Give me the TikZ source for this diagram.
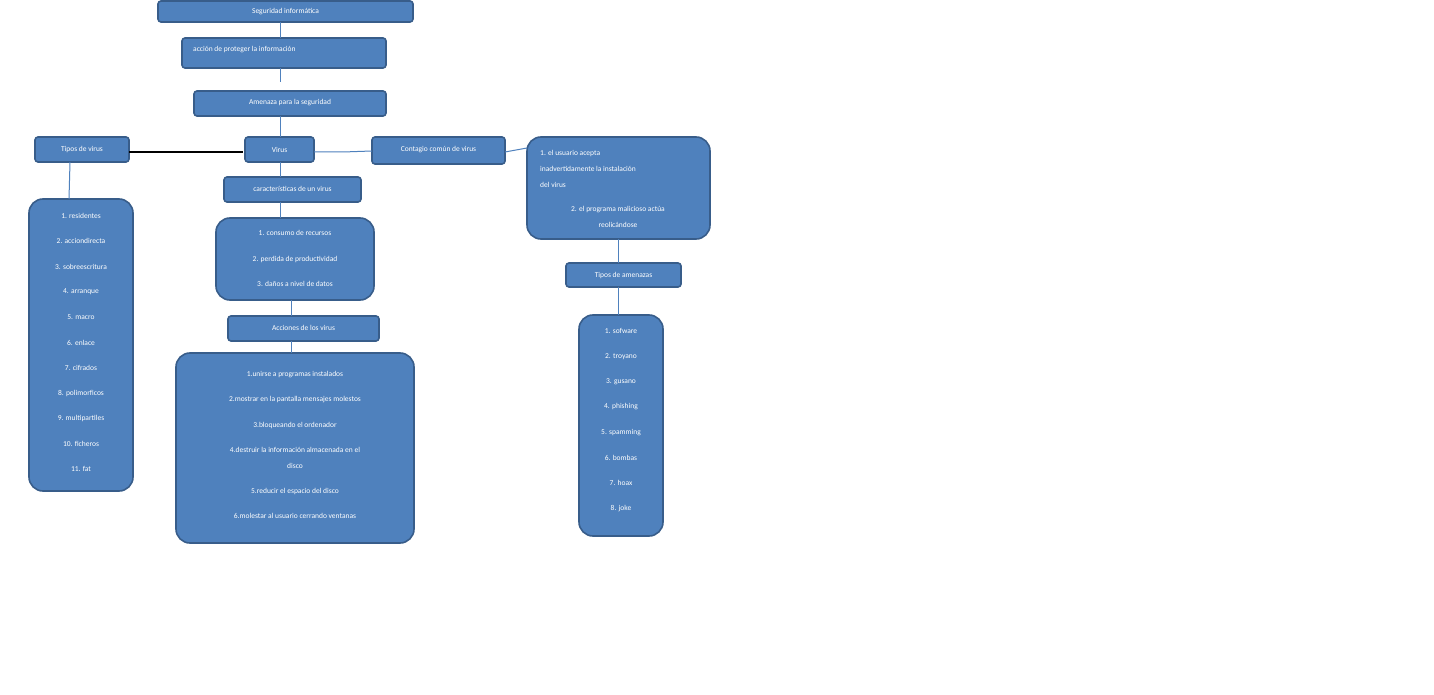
\documentclass[tikz,border=0pt]{standalone}
\usepackage{fontspec}
\setmainfont{Carlito}
\definecolor{bfill}{HTML}{4F81BD}
\definecolor{bdraw}{HTML}{385D8A}
\begin{document}
\begin{tikzpicture}[x=1pt,y=-1pt,
  bx/.style={fill=bfill,draw=bdraw,line width=1.6pt,rounded corners=3pt},
  rbx/.style={fill=bfill,draw=bdraw,line width=1.6pt,rounded corners=14pt},
  tx/.style={text=white,font=\fontsize{7.5}{9}\selectfont,inner sep=0pt},
  ln/.style={draw=bfill,line width=1pt}]
\useasboundingbox (0,0) rectangle (1434,695);
\fill[white] (0,0) rectangle (1434,695);
\draw[bx] (158,1) rectangle (413,22); \node[tx] (seg) at (285.5,12) {Seguridad informática};
\coordinate (segb) at (280,22);
\draw[bx] (182,38) rectangle (386,68); \node[tx,anchor=west] (acc) at (193,50) {acción de proteger la información};
\coordinate (acct) at (280,38); \coordinate (accb) at (280,68); \coordinate (gap) at (280,82);
\draw[bx] (194,91) rectangle (386,116); \node[tx] (ame) at (290,103) {Amenaza para la seguridad};
\coordinate (ameb) at (280,116);
\draw[bx] (35,137) rectangle (129,162); \node[tx] (tv) at (82,150) {Tipos de virus};
\draw[bx] (245,137) rectangle (314,162); \node[tx] (vir) at (279.5,150) {Virus};
\draw[bx] (372,137) rectangle (505,164); \node[tx] (con) at (438.5,150) {Contagio común de virus};
\draw[bx] (224,177) rectangle (361,202); \node[tx] (car) at (292.5,189) {características de un virus};
\draw[rbx] (216,218) rectangle (374,300);
\node[tx] (c1) at (295,233) {1. consumo de recursos};
\node[tx] (c2) at (295,259) {2. perdida de productividad};
\node[tx] (c3) at (295,284) {3. daños a nivel de datos};
\draw[bx] (228,316) rectangle (379,341); \node[tx] (acv) at (303.5,328) {Acciones de los virus};
\draw[rbx] (176,353) rectangle (414,543);
\node[tx] (a1) at (295,375) {1.unirse a programas instalados};
\node[tx] (a2) at (295,400) {2.mostrar en la pantalla mensajes molestos};
\node[tx] (a3) at (295,425) {3.bloqueando el ordenador};
\node[tx,align=center,font=\fontsize{7.5}{16}\selectfont] (a4) at (295,458) {4.destruir la información almacenada en el\\disco};
\node[tx] (a5) at (295,491) {5.reducir el espacio del disco};
\node[tx] (a6) at (295,516) {6.molestar al usuario cerrando ventanas};
\draw[rbx] (29,199) rectangle (133,491);
\foreach \t [count=\i] in {1. residentes,2. acciondirecta,3. sobreescritura,4. arranque,5. macro,6. enlace,7. cifrados,8. polimorficos,9. multipartiles,10. ficheros,11. fat}
  \node[tx] (tl\i) at (81,{216+(\i-1)*25.3}) {\t};
\draw[rbx] (527,137) rectangle (710,239);
\node[tx,anchor=west,align=left,font=\fontsize{7.5}{16}\selectfont] (cl1) at (540,169) {1. el usuario acepta\\inadvertidamente la instalación\\del virus};
\node[tx,align=center,font=\fontsize{7.5}{16}\selectfont] (cl2) at (618,217) {2. el programa malicioso actúa\\reolicándose};
\draw[bx] (566,263) rectangle (681,287); \node[tx] (ta) at (623.5,275) {Tipos de amenazas};
\draw[rbx] (579,315) rectangle (663,536);
\foreach \t [count=\i] in {1. sofware,2. troyano,3. gusano,4. phishing,5. spamming,6. bombas,7. hoax,8. joke}
  \node[tx] (al\i) at (621,{331+(\i-1)*25.3}) {\t};
% connectors
\draw[ln] (segb) -- (acct);
\draw[ln] (accb) -- (gap);
\draw[ln] (ameb) -- (280,137);
\draw[ln] (280,162) -- (280,177);
\draw[ln] (280,202) -- (280,218);
\draw[ln] (291,300) -- (291,316);
\draw[ln] (291,341) -- (291,353);
\draw[black,line width=1.2pt] (129,152) -- (243,152);
\draw[ln] (314,152) -- (343,152) -- (372,151);
\draw[ln] (505,152) -- (527,148);
\draw[ln] (70,162) -- (69,199);
\draw[ln] (618,239) -- (618,263);
\draw[ln] (618,287) -- (618,315);
\end{tikzpicture}
\end{document}
